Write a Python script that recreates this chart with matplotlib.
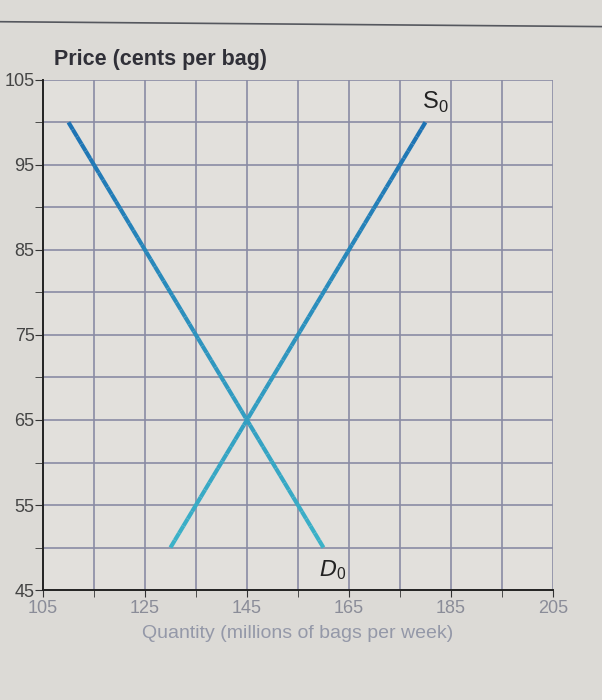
import numpy as np
import matplotlib
matplotlib.use("Agg")
import matplotlib.pyplot as plt
from matplotlib.collections import LineCollection
from matplotlib.lines import Line2D

# ---- data ----
demand_q = [110, 160]
demand_p = [100, 50]
supply_q = [130, 180]
supply_p = [50, 100]

x_ticks = [105, 125, 145, 165, 185, 205]
y_ticks = [45, 55, 65, 75, 85, 95, 105]

plt.rcParams['font.family'] = ['Liberation Sans', 'DejaVu Sans']

fig = plt.figure(figsize=(6.02, 7.0), dpi=100)
fig.patch.set_facecolor('#dcdad6')
ax = fig.add_axes([0.0714, 0.157, 0.847, 0.729])
ax.set_facecolor('#e2e0dc')

ax.set_xlim(105, 205)
ax.set_ylim(45, 105)

# grid: vertical every 10, horizontal every 5
for xv in np.arange(115, 206, 10):
    ax.axvline(xv, color='#8a8ba4', lw=1.2, zorder=1)
for yv in np.arange(50, 106, 5):
    ax.axhline(yv, color='#8a8ba4', lw=1.2, zorder=1)


def shaded_line(q, p):
    # photo makes the line darker at the top, lighter at the bottom
    qs = np.linspace(q[0], q[1], 60)
    ps = np.linspace(p[0], p[1], 60)
    pts = np.column_stack([qs, ps]).reshape(-1, 1, 2)
    segs = np.concatenate([pts[:-1], pts[1:]], axis=1)
    cmap = matplotlib.colors.LinearSegmentedColormap.from_list(
        'b', ['#3cb2c8', '#1e73b4'])
    lc = LineCollection(segs, cmap=cmap, linewidths=3.0, zorder=3,
                        capstyle='butt')
    lc.set_array((ps[:-1] + ps[1:]) / 2)
    lc.set_clim(50, 100)
    ax.add_collection(lc)


shaded_line(demand_q, demand_p)
shaded_line(supply_q, supply_p)

ax.text(182.0, 102.4, r'$\mathregular{S}_{\mathregular{0}}$', fontsize=17,
        ha='center', va='center', color='#222222', zorder=4)
ax.text(161.8, 47.3, r'$D_{\mathregular{0}}$', fontsize=16,
        ha='center', va='center', color='#222222', zorder=4)

# axes styling
for s in ['top', 'right']:
    ax.spines[s].set_visible(False)
ax.spines['left'].set_color('#222222')
ax.spines['bottom'].set_color('#222222')
ax.spines['left'].set_linewidth(1.4)
ax.spines['bottom'].set_linewidth(1.4)

ax.set_xticks(x_ticks)
ax.set_xticks(np.arange(115, 206, 10), minor=True)
ax.set_yticks(y_ticks)
ax.set_yticks(np.arange(50, 106, 10), minor=True)
ax.tick_params(axis='x', which='both', direction='out', length=5,
               color='#333333', labelsize=13, labelcolor='#8a8c98', pad=2)
ax.tick_params(axis='y', which='both', direction='out', length=6,
               color='#333333', labelsize=13, labelcolor='#444444', pad=0)

ax.set_xlabel('Quantity (millions of bags per week)', fontsize=14,
              color='#9498a8', labelpad=6)
fig.text(0.09, 0.915, 'Price (cents per bag)', fontsize=15.5, fontweight='bold',
         color='#303038', ha='left', va='center')

# screen edge line across the top of the photo
fig.add_artist(Line2D([0, 1], [0.969, 0.962], color='#55575e', lw=1.2))

fig.savefig('out.png', dpi=100, facecolor=fig.get_facecolor())
